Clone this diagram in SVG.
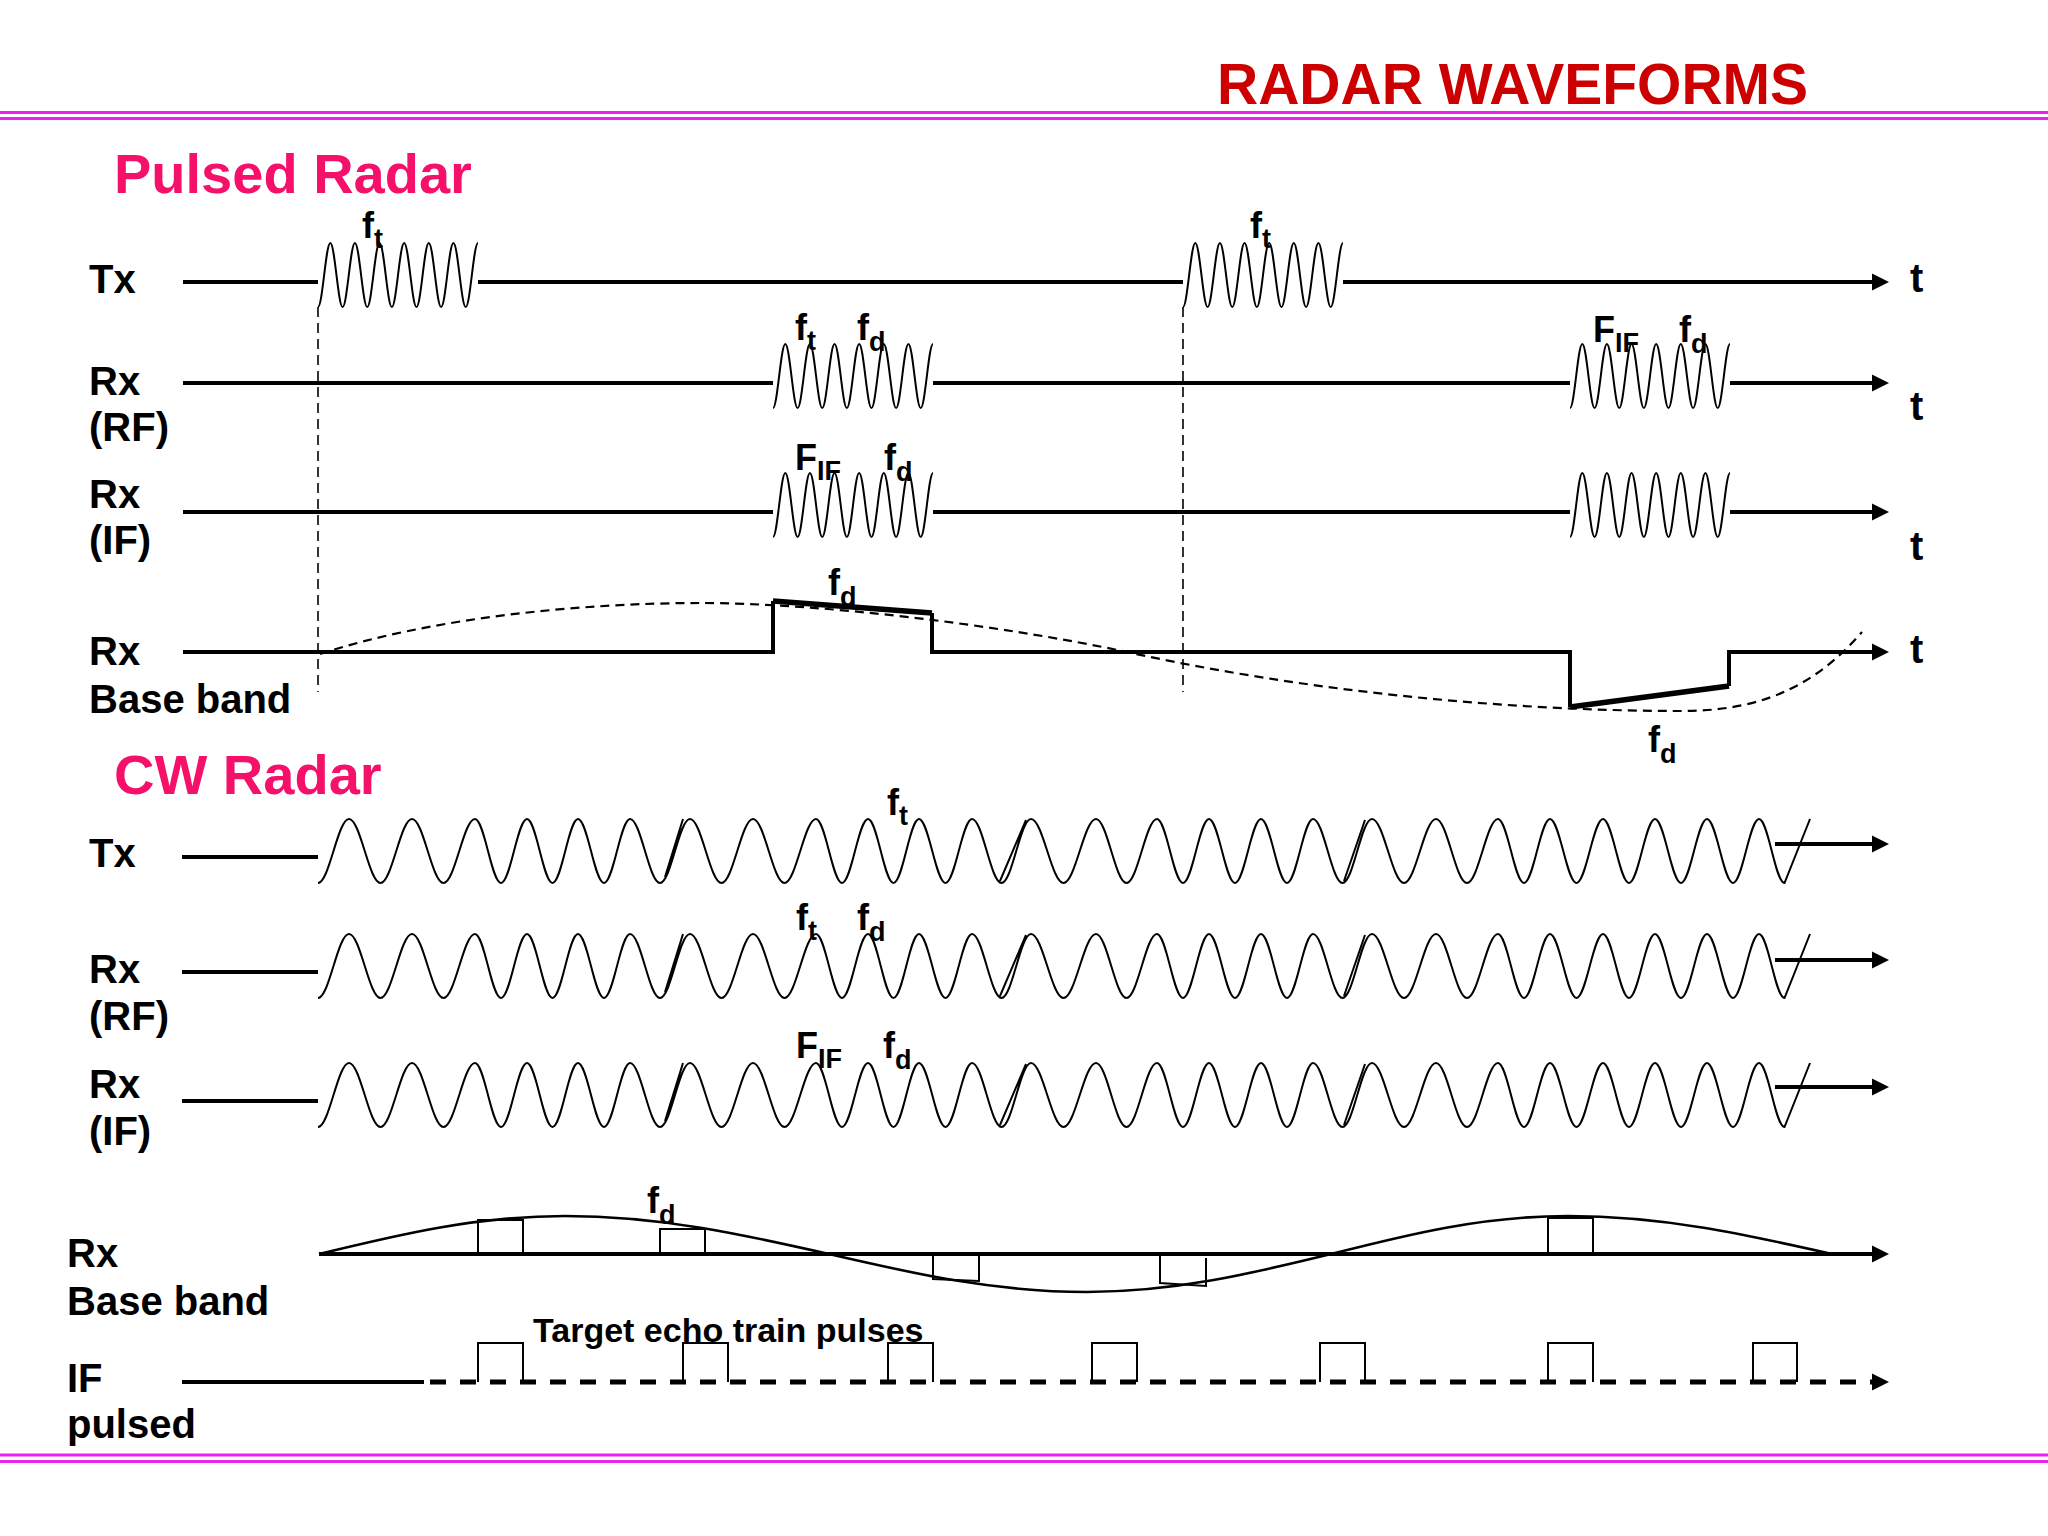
<svg xmlns="http://www.w3.org/2000/svg" xmlns:xlink="http://www.w3.org/1999/xlink" width="2048" height="1536" viewBox="0 0 2048 1536">
<style>
  .bg { fill: #ffffff; }
  .rule { stroke: #ee22ee; stroke-width: 3; fill: none; }
  .title { font-family: "Liberation Sans", Arial, sans-serif; font-weight: bold; font-size: 57px; fill: #cc0000; }
  .head { font-family: "Liberation Sans", Arial, sans-serif; font-weight: bold; font-size: 56px; fill: #f5106a; }
  .lbl { font-family: "Liberation Sans", Arial, sans-serif; font-weight: bold; font-size: 40px; fill: #000; }
  .f { font-family: "Liberation Sans", Arial, sans-serif; font-weight: bold; font-size: 36px; fill: #000; }
  .sub { font-size: 27px; }
  .note { font-family: "Liberation Sans", Arial, sans-serif; font-weight: bold; font-size: 34px; fill: #000; }
  .axis { stroke: #000; stroke-width: 4; fill: none; }
  .thick { stroke: #000; stroke-width: 5.5; fill: none; }
  .wave { stroke: #000; stroke-width: 2; fill: none; }
  .thin { stroke: #000; stroke-width: 2; fill: none; }
  .vdash { stroke: #000; stroke-width: 1.6; fill: none; stroke-dasharray: 10 6; }
  .cdash { stroke: #000; stroke-width: 2.2; fill: none; stroke-dasharray: 9 6; }
  .idash { stroke: #000; stroke-width: 5; fill: none; stroke-dasharray: 16 14; }
  .curve { stroke: #000; stroke-width: 2.6; fill: none; }
</style>
<defs>
  <marker id="arrow" markerUnits="userSpaceOnUse" markerWidth="20" markerHeight="20" viewBox="0 0 20 20" refX="2" refY="10" orient="auto">
    <path d="M0,1.5 L17,10 L0,18.5 z" fill="#000"/>
  </marker>
  <path id="burst" d="M0,25 c4.47,0 7.84,-64 12.31,-64 s7.84,64 12.31,64 s7.84,-64 12.31,-64 s7.84,64 12.31,64 s7.84,-64 12.31,-64 s7.84,64 12.31,64 s7.84,-64 12.31,-64 s7.84,64 12.31,64 s7.84,-64 12.31,-64 s7.84,64 12.31,64 s7.84,-64 12.31,-64 s7.84,64 12.31,64 s7.84,-64 12.31,-64"/>
  <path id="cw" d="M318,26 C329.27,26 337.73,-38 349,-38 C360.45,-38 369.05,26 380.5,26 C391.95,26 400.55,-38 412,-38 C423.45,-38 432.05,26 443.5,26 C454.95,26 463.55,-38 475,-38 C484.45,-38 491.55,26 501,26 C510.45,26 517.55,-38 527,-38 C536.27,-38 543.23,26 552.5,26 C561.77,26 568.73,-38 578,-38 C587.45,-38 594.55,26 604,26 C613.45,26 620.55,-38 630,-38 C640.9,-38 649.1,26 660,26 C670.9,26 679.1,-38 690,-38 C701.45,-38 710.05,26 721.5,26 C732.95,26 741.55,-38 753,-38 C764.45,-38 773.05,26 784.5,26 C795.95,26 804.55,-38 816,-38 C825.45,-38 832.55,26 842,26 C851.45,26 858.55,-38 868,-38 C877.27,-38 884.23,26 893.5,26 C902.77,26 909.73,-38 919,-38 C928.63,-38 935.87,26 945.5,26 C955.13,26 962.37,-38 972,-38 C982.72,-38 990.78,26 1001.5,26 C1012.22,26 1020.28,-38 1031,-38 C1042.81,-38 1051.69,26 1063.5,26 C1075.31,26 1084.19,-38 1096,-38 C1107.08,-38 1115.42,26 1126.5,26 C1137.58,26 1145.92,-38 1157,-38 C1166.45,-38 1173.55,26 1183,26 C1192.45,26 1199.55,-38 1209,-38 C1218.45,-38 1225.55,26 1235,26 C1244.45,26 1251.55,-38 1261,-38 C1270.45,-38 1277.55,26 1287,26 C1296.45,26 1303.55,-38 1313,-38 C1323.72,-38 1331.78,26 1342.5,26 C1353.22,26 1361.28,-38 1372,-38 C1383.63,-38 1392.37,26 1404,26 C1415.63,26 1424.37,-38 1436,-38 C1447.27,-38 1455.73,26 1467,26 C1478.27,26 1486.73,-38 1498,-38 C1507.45,-38 1514.55,26 1524,26 C1533.45,26 1540.55,-38 1550,-38 C1559.63,-38 1566.87,26 1576.5,26 C1586.13,26 1593.37,-38 1603,-38 C1612.45,-38 1619.55,26 1629,26 C1638.45,26 1645.55,-38 1655,-38 C1664.45,-38 1671.55,26 1681,26 C1690.45,26 1697.55,-38 1707,-38 C1716.45,-38 1723.55,26 1733,26 C1742.45,26 1749.55,-38 1759,-38 C1768.27,-38 1775.23,26 1784.5,26 L1810,-38 M665,20 L683,-38 M1000,24 L1026,-37 M1344,24 L1365,-37"/>
</defs>

<rect class="bg" x="0" y="0" width="2048" height="1536"/>

<g id="frame">
  <text class="title" x="1217" y="104">RADAR WAVEFORMS</text>
  <line class="rule" x1="0" y1="112.5" x2="2048" y2="112.5"/>
  <line class="rule" x1="0" y1="118.5" x2="2048" y2="118.5"/>
  <line class="rule" x1="0" y1="1455" x2="2048" y2="1455"/>
  <line class="rule" x1="0" y1="1461.5" x2="2048" y2="1461.5"/>
</g>

<g id="pulsed-radar">
  <text class="head" x="114" y="193">Pulsed Radar</text>

  <g id="pulsed-tx">
    <text class="lbl" x="89" y="293">Tx</text>
    <path class="axis" d="M183,282 H318 M478,282 H1183 M1343,282 H1874" marker-end="url(#arrow)"/>
    <use href="#burst" class="wave" transform="translate(318,282)"/>
    <use href="#burst" class="wave" transform="translate(1183,282)"/>
    <text class="f" x="362" y="238">f<tspan class="sub" dy="10">t</tspan></text>
    <text class="f" x="1250" y="238">f<tspan class="sub" dy="10">t</tspan></text>
    <text class="lbl" x="1910" y="292">t</text>
  </g>

  <g id="pulsed-rx-rf">
    <text class="lbl" x="89" y="395">Rx</text>
    <text class="lbl" x="89" y="441">(RF)</text>
    <path class="axis" d="M183,383 H773 M933,383 H1570 M1730,383 H1874" marker-end="url(#arrow)"/>
    <use href="#burst" class="wave" transform="translate(773,383)"/>
    <use href="#burst" class="wave" transform="translate(1570,383)"/>
    <text class="f" x="795" y="340">f<tspan class="sub" dy="10">t</tspan></text>
    <text class="f" x="857" y="340">f<tspan class="sub" dy="11">d</tspan></text>
    <text class="f" x="1593" y="342">F<tspan class="sub" dy="10">IF</tspan></text>
    <text class="f" x="1679" y="342">f<tspan class="sub" dy="11">d</tspan></text>
    <text class="lbl" x="1910" y="420">t</text>
  </g>

  <g id="pulsed-rx-if">
    <text class="lbl" x="89" y="508">Rx</text>
    <text class="lbl" x="89" y="554">(IF)</text>
    <path class="axis" d="M183,512 H773 M933,512 H1570 M1730,512 H1874" marker-end="url(#arrow)"/>
    <use href="#burst" class="wave" transform="translate(773,512)"/>
    <use href="#burst" class="wave" transform="translate(1570,512)"/>
    <text class="f" x="795" y="470">F<tspan class="sub" dy="10">IF</tspan></text>
    <text class="f" x="884" y="470">f<tspan class="sub" dy="11">d</tspan></text>
    <text class="lbl" x="1910" y="560">t</text>
  </g>

  <g id="pulsed-rx-baseband">
    <text class="lbl" x="89" y="665">Rx</text>
    <text class="lbl" x="89" y="713">Base band</text>
    <path class="cdash" d="M320,654 C430,618 580,603 700,603 C820,603 1000,625 1127,652 C1300,690 1500,711 1682,711 C1770,711 1820,680 1862,632"/>
    <path class="axis" d="M183,652 H773 V601 M932,613 V652 H1570 V707 M1729,686 V652 H1874" marker-end="url(#arrow)"/>
    <path class="thick" d="M773,601 L932,613 M1570,707 L1729,686"/>
    <text class="f" x="828" y="595">f<tspan class="sub" dy="11">d</tspan></text>
    <text class="f" x="1648" y="752">f<tspan class="sub" dy="11">d</tspan></text>
    <text class="lbl" x="1910" y="663">t</text>
  </g>

  <g id="timing-markers">
    <path class="vdash" d="M318,307 V692 M1183,307 V692"/>
  </g>
</g>

<g id="cw-radar">
  <text class="head" x="114" y="794">CW Radar</text>

  <g id="cw-tx">
    <text class="lbl" x="89" y="867">Tx</text>
    <path class="axis" d="M182,857 H318"/>
    <use href="#cw" class="wave" transform="translate(0,857)"/>
    <path class="axis" d="M1775,844 H1874" marker-end="url(#arrow)"/>
    <text class="f" x="887" y="815">f<tspan class="sub" dy="10">t</tspan></text>
  </g>

  <g id="cw-rx-rf">
    <text class="lbl" x="89" y="983">Rx</text>
    <text class="lbl" x="89" y="1030">(RF)</text>
    <path class="axis" d="M182,972 H318"/>
    <use href="#cw" class="wave" transform="translate(0,972)"/>
    <path class="axis" d="M1775,960 H1874" marker-end="url(#arrow)"/>
    <text class="f" x="796" y="930">f<tspan class="sub" dy="10">t</tspan></text>
    <text class="f" x="857" y="930">f<tspan class="sub" dy="11">d</tspan></text>
  </g>

  <g id="cw-rx-if">
    <text class="lbl" x="89" y="1098">Rx</text>
    <text class="lbl" x="89" y="1145">(IF)</text>
    <path class="axis" d="M182,1101 H318"/>
    <use href="#cw" class="wave" transform="translate(0,1101)"/>
    <path class="axis" d="M1775,1087 H1874" marker-end="url(#arrow)"/>
    <text class="f" x="796" y="1058">F<tspan class="sub" dy="10">IF</tspan></text>
    <text class="f" x="883" y="1058">f<tspan class="sub" dy="11">d</tspan></text>
  </g>

  <g id="cw-rx-baseband">
    <text class="lbl" x="67" y="1267">Rx</text>
    <text class="lbl" x="67" y="1315">Base band</text>
    <path class="axis" d="M319,1254 H1874" marker-end="url(#arrow)"/>
    <path class="curve" d="M319,1254 C399,1234.5 476,1216 565,1216 C660.6,1216 743,1234.5 829,1254 C913,1273.5 993.6,1292 1087,1292 C1175,1292 1251.5,1273.5 1331,1254 C1408,1234.5 1482,1216 1568,1216 C1664,1216 1746,1234.5 1832,1254"/>
    <path class="thin" d="M478,1254 V1220 H523 V1254 M660,1254 V1229 H705 V1254 M933,1254 V1279 L979,1281 V1254 M1160,1256 V1283 L1206,1286 V1258 M1548,1254 V1218 H1593 V1254"/>
    <text class="f" x="647" y="1213">f<tspan class="sub" dy="11">d</tspan></text>
  </g>

  <g id="cw-if-pulsed">
    <text class="lbl" x="67" y="1392">IF</text>
    <text class="lbl" x="67" y="1438">pulsed</text>
    <path class="axis" d="M182,1382 H424"/>
    <path class="idash" d="M430,1382 H1874" marker-end="url(#arrow)"/>
    <path class="thin" d="M478,1382 V1343 H523 V1382 M683,1382 V1343 H728 V1382 M888,1382 V1343 H933 V1382 M1092,1382 V1343 H1137 V1382 M1320,1382 V1343 H1365 V1382 M1548,1382 V1343 H1593 V1382 M1753,1382 V1343 H1797 V1382"/>
    <text class="note" x="533" y="1342">Target echo train pulses</text>
  </g>
</g>
</svg>
